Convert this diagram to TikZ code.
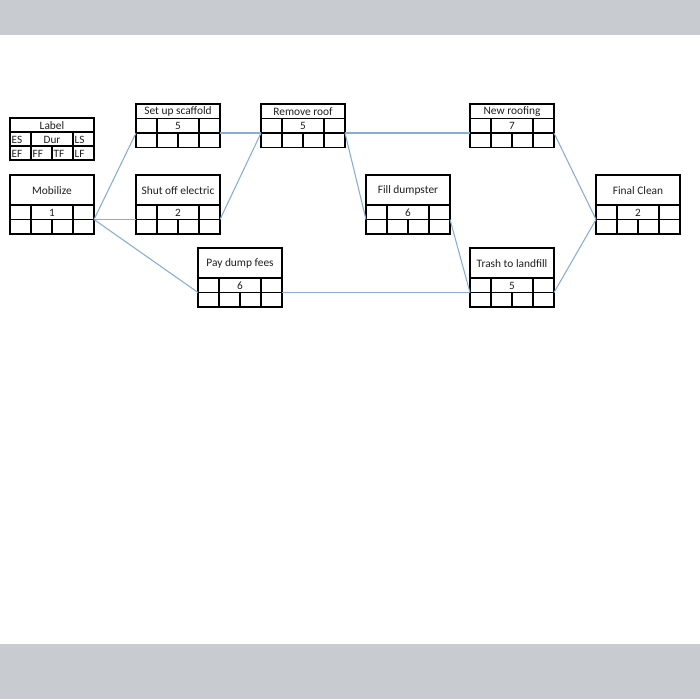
\documentclass[tikz,border=0pt]{standalone}
\usepackage{fontspec}
\setmainfont{Carlito}
\definecolor{band}{RGB}{200,204,208}
\definecolor{link}{RGB}{135,174,210}
\tikzset{
  frame/.style={draw=black, line width=1.25pt, inner sep=0pt, outer sep=0pt, anchor=north west, minimum width=84pt},
  grid/.style={black, line width=1.15pt},
  nametext/.style={font=\fontsize{11.4}{13}\selectfont, inner sep=0pt, text=black!88},
  celltext/.style={font=\fontsize{11.2}{13}\selectfont, inner sep=0pt, text=black!88},
  leftcell/.style={font=\fontsize{11.2}{13}\selectfont, inner sep=0pt, anchor=west, text=black!88},
  linkline/.style={draw=link, line width=1.05pt}
}
\newcommand\actbox[6]{%
  \begin{scope}[shift={(#2,#3)}]
    \node[frame, minimum height={#4pt+29pt}] (#1) at (0,0) {};
    \draw[grid] (0,#4) -- (84,#4);
    \draw[grid] (0,#4+14.5) -- (84,#4+14.5);
    \draw[grid] (21,#4) -- (21,#4+29);
    \draw[grid] (63,#4) -- (63,#4+29);
    \draw[grid] (42,#4+14.5) -- (42,#4+29);
    \node[nametext] (#1-name) at (42,#4/2+0.5) {#5};
    \node[celltext] (#1-dur) at (42,#4+7.5) {#6};
    \coordinate (#1-in) at (0,#4+14.5);
    \coordinate (#1-out) at (84,#4+14.5);
  \end{scope}}
\begin{document}
\begin{tikzpicture}[x=1pt,y=-1pt]
\useasboundingbox (0,0) rectangle (700,699);
\fill[white] (0,0) rectangle (700,699);
\fill[band] (0,0) rectangle (700,35);
\fill[band] (0,644) rectangle (700,699);

% legend box
\begin{scope}[shift={(10,118)}]
  \node[frame, minimum height=42pt] (legend) at (0,0) {};
  \draw[grid] (0,14) -- (84,14);
  \draw[grid] (0,28) -- (84,28);
  \draw[grid] (21,14) -- (21,42);
  \draw[grid] (63,14) -- (63,42);
  \draw[grid] (42,28) -- (42,42);
  \node[nametext] (legend-name) at (42,7.5) {Label};
  \node[leftcell] (legend-es) at (1.5,21.5) {ES};
  \node[celltext] (legend-dur) at (42,21.5) {Dur};
  \node[leftcell] (legend-ls) at (64.5,21.5) {LS};
  \node[leftcell] (legend-ef) at (1.5,35.5) {EF};
  \node[leftcell] (legend-ff) at (22.5,35.5) {FF};
  \node[leftcell] (legend-tf) at (43.5,35.5) {TF};
  \node[leftcell] (legend-lf) at (64.5,35.5) {LF};
\end{scope}

\actbox{mob}{10}{175}{30}{Mobilize}{1}
\actbox{sus}{136}{104}{14.5}{Set up scaffold}{5}
\actbox{soe}{136}{175}{30}{Shut off electric}{2}
\actbox{rr}{261}{104}{14.5}{Remove roof}{5}
\actbox{pdf}{198}{248}{30}{Pay dump fees}{6}
\actbox{fd}{366}{175}{30}{Fill dumpster}{6}
\actbox{nr}{470}{104}{14.5}{New roofing}{7}
\actbox{ttl}{470}{248}{30}{Trash to landfill}{5}
\actbox{fc}{596}{175}{30}{Final Clean}{2}

\draw[linkline] (mob-out) -- (sus-in);
\draw[linkline] (mob-out) -- (soe-in);
\draw[linkline] (mob-out) -- (pdf-in);
\draw[linkline] (sus-out) -- (rr-in);
\draw[linkline] (soe-out) -- (rr-in);
\draw[linkline] (rr-out) -- (nr-in);
\draw[linkline] (rr-out) -- (fd-in);
\draw[linkline] (pdf-out) -- (ttl-in);
\draw[linkline] (fd-out) -- (ttl-in);
\draw[linkline] (nr-out) -- (fc-in);
\draw[linkline] (ttl-out) -- (fc-in);
\end{tikzpicture}
\end{document}
